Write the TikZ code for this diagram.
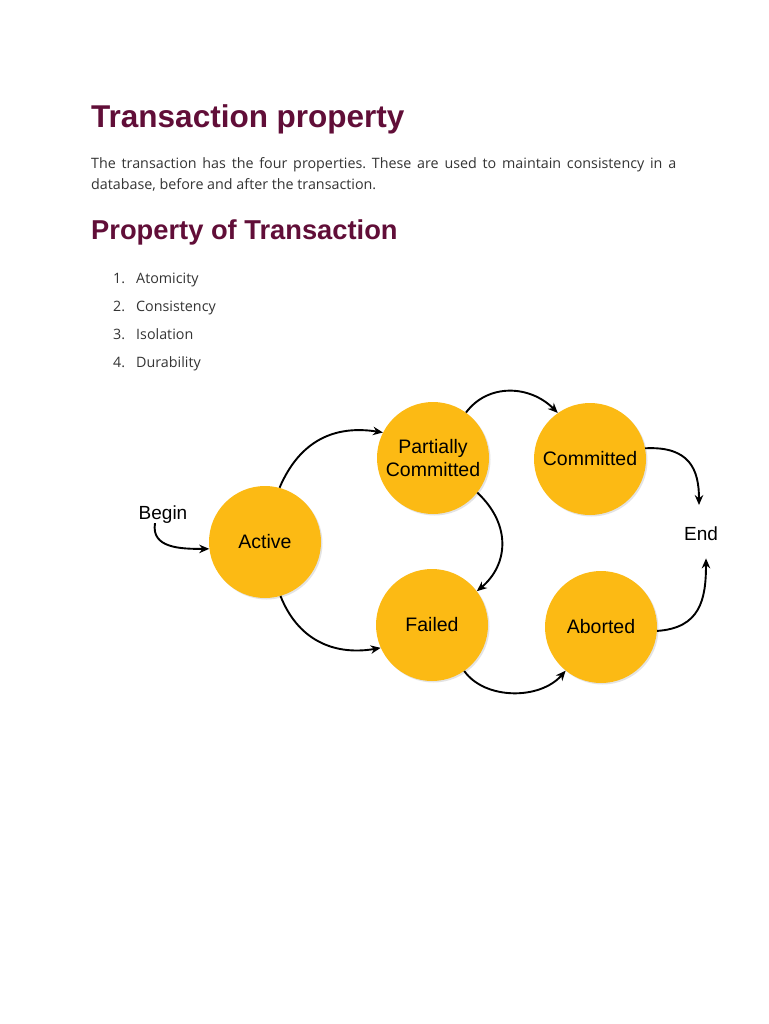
\documentclass[tikz,border=0pt]{standalone}
\usepackage{fontspec}
\setmainfont{Liberation Sans}
\newfontfamily\bodyfont{Open Sans}
\usetikzlibrary{arrows.meta,shadows}
\definecolor{maroon}{RGB}{97,14,56}
\definecolor{bodygray}{RGB}{52,52,52}
\definecolor{stateyellow}{RGB}{252,186,20}
\frenchspacing
\begin{document}
\begin{tikzpicture}[x=1pt,y=-1pt,
  state/.style={circle, fill=stateyellow, minimum size=112pt, inner sep=0pt, align=center,
    font=\fontsize{19.5}{23}\selectfont,
    drop shadow={shadow xshift=1.5pt,shadow yshift=-1.5pt,opacity=0.22}},
  lbl/.style={anchor=base, inner sep=0pt, font=\fontsize{19}{23}\selectfont},
  flow/.style={line width=1.9pt, -{Stealth[length=10pt,width=8.5pt]}},
  heading/.style={anchor=base west, inner sep=0pt, text=maroon},
  body/.style={anchor=base west, inner sep=0pt, text=bodygray, font=\bodyfont\fontsize{14.3}{21}\selectfont}]

\fill[white] (0,0) rectangle (768,1024);
\path[use as bounding box] (0,0) rectangle (768,1024);

% headings and text
\node[heading, font=\bfseries\fontsize{31.5}{36}\selectfont] (title) at (91,128) {Transaction property};
\node[body] (para) at (91,169) {\parbox[t]{585pt}{\fontsize{14.3}{21}\selectfont The transaction has the four properties. These are used to maintain consistency in a database, before and after the transaction.}};
\node[heading, font=\bfseries\fontsize{27.3}{32}\selectfont] (sub) at (91,240) {Property of Transaction};

\node[body] (n1) at (113,283) {1.};
\node[body] (i1) at (136,283) {Atomicity};
\node[body] (n2) at (113,311) {2.};
\node[body] (i2) at (136,311) {Consistency};
\node[body] (n3) at (113,339) {3.};
\node[body] (i3) at (136,339) {Isolation};
\node[body] (n4) at (113,367) {4.};
\node[body] (i4) at (136,367) {Durability};

% states
\node[state] (act)  at (265,542) {Active};
\node[state] (pc)   at (433,458) {Partially\\Committed};
\node[state] (com)  at (590,459) {Committed};
\node[state] (fail) at (432,625) {Failed};
\node[state] (ab)   at (601,627) {Aborted};

\node[lbl] (begin) at (163,519) {Begin};
\node[lbl] (endn)  at (701,540) {End};

% transitions
\draw[flow] ([xshift=-8pt]begin.south) .. controls (151,548) and (180,549) .. (act.187);
\draw[flow] (act.75) .. controls (300,440) and (335,425) .. (pc.153);
\draw[flow] (act.286) .. controls (300,645) and (340,655) .. (fail.204);
\draw[flow] (pc.54) .. controls (488,383) and (530,385) .. (com.125);
\draw[flow] (pc.-38) .. controls (512,525) and (508,565) .. (fail.37);
\draw[flow] (fail.-55) .. controls (485,700) and (540,700) .. (ab.231);
\draw[flow] (com.11) .. controls (690,446) and (699,470) .. ([xshift=-2pt,yshift=21pt]endn.north);
\draw[flow] (ab.-4) .. controls (700,628) and (706,600) .. ([xshift=5pt,yshift=-18pt]endn.south);
\end{tikzpicture}
\end{document}
